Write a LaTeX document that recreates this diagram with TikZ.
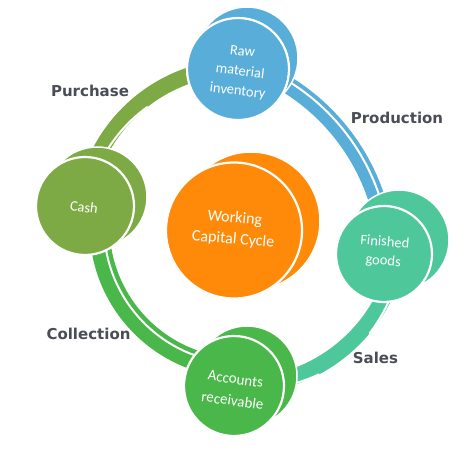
\documentclass[tikz,border=0pt]{standalone}
\usepackage{fontspec}
\setmainfont{Carlito}
\newfontfamily\lblfont{DejaVu Sans}
\definecolor{cblue}{HTML}{58AED8}
\definecolor{colive}{HTML}{7EAA45}
\definecolor{corange}{HTML}{FF8A0A}
\definecolor{cteal}{HTML}{4EC79B}
\definecolor{cgreen}{HTML}{49B749}
\definecolor{labelgray}{HTML}{4A4C56}
\begin{document}
\begin{tikzpicture}[x=1pt,y=-1pt,
  front/.style={circle, fill=#1, draw=white, line width=2.2pt, inner sep=0pt},
  back/.style={circle, fill=#1, draw=white, line width=1.5pt, inner sep=0pt},
  disctext/.style={text=white, align=center, inner sep=0pt},
  lbl/.style={font=\lblfont\bfseries\fontsize{15}{18}\selectfont, text=labelgray, inner sep=0pt, anchor=base},
  sep/.style={white, line width=2pt}]
\useasboundingbox[fill=white] (0,0) rectangle (474,454);
% ring centres
\coordinate (ringc) at (240,225);
\coordinate (prodc) at (176,264);
\coordinate (collc) at (241.5,226);
% Purchase arc (olive)
\draw[colive, line width=16pt] (ringc) ++(-172:158) arc[start angle=-172, end angle=-100, radius=158];
\draw[sep, shift={(240,225)}] plot[domain=-172:-128, samples=30] (\x:{155-(\x+172)*5/44});
% Production arc (blue)
\draw[cblue, line width=17pt] (prodc) ++(-66:211) arc[start angle=-66, end angle=-14, radius=211];
\draw[sep] (prodc) ++(-66:214.5) arc[start angle=-66, end angle=-14, radius=214.5];
% Sales arc (teal)
\draw[cteal, line width=16pt] (ringc) ++(12:161) arc[start angle=12, end angle=88, radius=161];
\draw[sep, shift={(240,225)}] plot[domain=12:40, samples=30] (\x:{165+(\x-12)*4/28});
\draw[sep, shift={(240,225)}] plot[domain=62:88, samples=30] (\x:{169-(\x-62)*4/26});
% Collection arc (green)
\draw[cgreen, line width=20pt] (collc) ++(100:142) arc[start angle=100, end angle=178, radius=142];
\draw[sep] (collc) ++(100:137.5) arc[start angle=100, end angle=178, radius=137.5];
% discs: back then front
\node[back=cblue, minimum size=102pt] (rawback) at (247,58) {};
\node[front=cblue, minimum size=102pt] (raw) at (238,69) {};
\node[back=colive, minimum size=100pt] (cashback) at (97,197) {};
\node[front=colive, minimum size=98pt] (cash) at (85,206) {};
\node[back=corange, minimum size=138pt] (wccback) at (251,221) {};
\node[front=corange, minimum size=136pt] (wcc) at (234,230.5) {};
\node[back=cteal, minimum size=100pt] (fgback) at (399,240) {};
\node[front=cteal, minimum size=96pt] (fg) at (384,254) {};
\node[back=cgreen, minimum size=100pt] (arback) at (247,376) {};
\node[front=cgreen, minimum size=100pt] (ar) at (234,386) {};
% disc texts
\node[disctext, rotate=-7, font=\fontsize{14.5}{20}\selectfont] (rawtext) at (240,72) {Raw\\material\\inventory};
\node[disctext, rotate=-7, font=\fontsize{14.5}{17}\selectfont] (cashtext) at (84,207) {Cash};
\node[disctext, rotate=-5, font=\fontsize{16}{21.5}\selectfont] (wcctext) at (234,229) {Working\\Capital Cycle};
\node[disctext, rotate=-5, font=\fontsize{14.5}{19}\selectfont] (fgtext) at (384,252) {Finished\\goods};
\node[disctext, rotate=-8, font=\fontsize{15}{22}\selectfont] (artext) at (234,390) {Accounts\\receivable};
% labels
\node[lbl] (purchase) at (90,97) {Purchase};
\node[lbl] (production) at (397,124) {Production};
\node[lbl] (collection) at (88.5,340) {Collection};
\node[lbl] (sales) at (375.5,363) {Sales};
\end{tikzpicture}
\end{document}
